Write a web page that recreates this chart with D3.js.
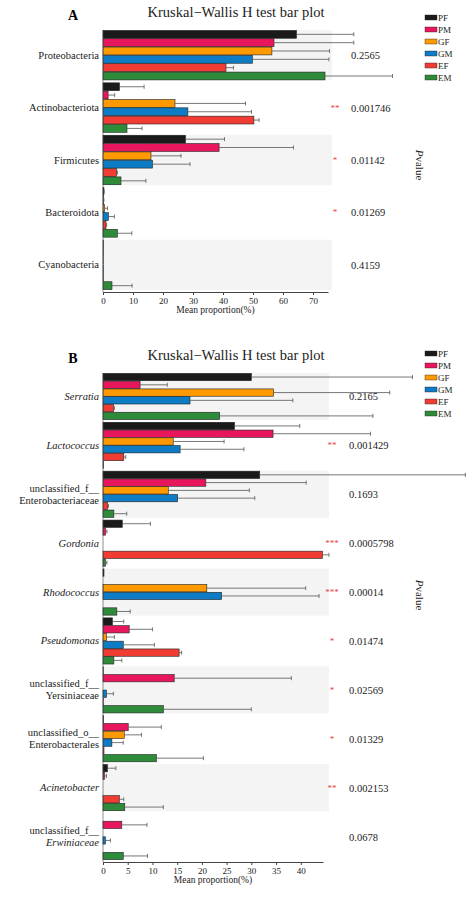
<!DOCTYPE html><html><head><meta charset="utf-8">
<script src="https://cdn.jsdelivr.net/npm/d3@7"></script>
<style>body{margin:0;background:#fff}text{font-family:"Liberation Serif","Times New Roman",serif}</style></head><body>
<svg id="c" width="474" height="902"></svg>
<script>
const series=["PF","PM","GF","GM","EF","EM"];
const colors=["#1a1a1a","#e8175d","#ff9900","#0d7cc4","#f03c32","#2e8b3a"];
const catsA=[["Proteobacteria"],["Actinobacteriota"],["Firmicutes"],["Bacteroidota"],["Cyanobacteria"]];
const italA=[false,false,false,false,false];
const meanA=[[64.5,57,56.3,49.8,41,74],[5.5,1.7,24,28.3,50.3,8],[27.5,38.7,16,16.5,4.5,6],[0.3,0.2,0.5,1.8,1,4.8],[0.1,0.1,0.1,0.1,0.1,3]];
const errA=[[83.6,83.6,75.5,75.3,43.5,96.5],[13.7,3.9,47.5,49.5,52,13],[40.5,63.5,26,29,4.8,14.3],[0.4,0.3,1.5,3.8,1.2,9.6],[0.1,0.1,0.1,0.1,0.1,9.7]];
const pA=["0.2565","0.001746","0.01142","0.01269","0.4159"];
const starA=["","**","*","*",""];
const ticksA=[0,10,20,30,40,50,60,70];
const catsB=[["Serratia"],["Lactococcus"],["unclassified_f__","Enterobacteriaceae"],["Gordonia"],["Rhodococcus"],["Pseudomonas"],["unclassified_f__","Yersiniaceae"],["unclassified_o__","Enterobacterales"],["Acinetobacter"],["unclassified_f__","Erwiniaceae"]];
const italB=[[true],[true],[false,false],[true],[true],[true],[false,false],[false,false],[true],[false,true]];
const meanB=[[30,7.5,34.5,17.6,2.1,23.6],[26.6,34.4,14.2,15.6,4.2,0.1],[31.7,20.8,13.2,15.1,0.9,2.2],[3.9,0.5,0,0,44.4,0.5],[0.2,0,21,24,0,2.8],[1.9,5.3,0.7,4.1,15.4,2.2],[0.05,14.4,0,0.7,0.05,12.2],[0.1,5.1,4.3,1.8,0.2,10.8],[0.9,0.3,0,0,3.3,4.4],[0,3.8,0,0.5,0,4.1]];
const errB=[[62.6,13,58,38.4,2.3,54.6],[39.8,54.1,24.5,28.5,4.6,0.1],[73.3,41.1,29.6,30.7,1.1,4.8],[9.6,0.8,0,0,45.7,0.8],[0.2,0,41,43.7,0,5.5],[4.2,10,2.3,10.4,15.9,3.8],[0.05,38.1,0,2.1,0.05,30],[0.1,11.8,7.8,4.1,0.2,20.3],[2.6,0.7,0,0,4.2,12.2],[0,8.9,0,1.5,0,9]];
const pB=["0.2165","0.001429","0.1693","0.0005798","0.00014","0.01474","0.02569","0.01329","0.002153","0.0678"];
const starB=["","**","","***","***","*","*","*","**",""];
const ticksB=[0,5,10,15,20,25,30,35,40];
const svg=d3.select("#c");
function panel(o){
  const g=svg.append("g");
  const x=d3.scaleLinear().domain([0,o.xmax]).range([103,o.xr]);
  const y=d3.scaleBand().domain(d3.range(o.cats.length)).range([o.top,o.bottom]).paddingInner(0.04);
  const yi=d3.scaleBand().domain(series).range([0,y.bandwidth()]).paddingInner(0.06).paddingOuter(0.05);
  o.cats.forEach((c,i)=>{
    if(i%2===0) g.append("rect").attr("x",103).attr("y",y(i)).attr("width",o.bandR-103).attr("height",y.bandwidth()).attr("fill","#f4f4f4");
  });
  o.cats.forEach((c,i)=>{
    series.forEach((s,j)=>{
      const v=o.mean[i][j],e=o.err[i][j],yy=y(i)+yi(s),h=yi.bandwidth();
      if(v>0) g.append("rect").attr("x",x(0)).attr("y",yy).attr("width",x(v)-x(0)).attr("height",h).attr("fill",colors[j]).attr("stroke","#222").attr("stroke-width",0.6);
      if(e>v+0.05){
        g.append("line").attr("x1",x(v)).attr("x2",x(e)).attr("y1",yy+h/2).attr("y2",yy+h/2).attr("stroke","#555").attr("stroke-width",0.8);
        g.append("line").attr("x1",x(e)).attr("x2",x(e)).attr("y1",yy+h/2-2).attr("y2",yy+h/2+2).attr("stroke","#555").attr("stroke-width",0.8);
      }
    });
    const cy=y(i)+y.bandwidth()/2;
    c.forEach((t,k)=>{
      g.append("text").attr("x",99).attr("y",cy+3.5+(k-(c.length-1)/2)*12).attr("text-anchor","end").attr("font-size",10.5).attr("font-style",o.ital[i][k]?"italic":"normal").attr("fill","#222").text(t);
    });
    g.append("text").attr("x",o.px).attr("y",cy+4).attr("font-size",10.5).attr("fill","#222").text(o.p[i]);
    if(o.star[i]) g.append("text").attr("x",o.sx).attr("y",cy+3).attr("font-size",9).attr("fill","#e84040").attr("text-anchor","middle").text(o.star[i]);
  });
  const ax=g.append("g").attr("transform",`translate(0,${o.bottom+2})`).call(d3.axisBottom(x).tickValues(o.ticks).tickSize(3).tickSizeOuter(0));
  ax.selectAll("text").attr("font-family","Liberation Serif").attr("font-size",9).attr("fill","#222");
  ax.select(".domain").attr("stroke","#444");ax.selectAll("line").attr("stroke","#444");
  g.append("line").attr("x1",103).attr("x2",103).attr("y1",o.top).attr("y2",o.bottom+2).attr("stroke","#444").attr("stroke-width",0.6);
  g.append("text").attr("x",(103+o.xr)/2).attr("y",o.bottom+23).attr("text-anchor","middle").attr("font-size",9.5).attr("fill","#222").text("Mean proportion(%)");
  g.append("text").attr("x",236).attr("y",o.top-13).attr("text-anchor","middle").attr("font-size",14.5).attr("fill","#222").text("Kruskal\u2212Wallis H test bar plot");
  g.append("text").attr("x",73).attr("y",o.top-10).attr("text-anchor","middle").attr("font-size",14).attr("font-weight","bold").text(o.lab);
  const lg=g.append("g");
  series.forEach((s,j)=>{
    lg.append("rect").attr("x",425).attr("y",o.ly+j*12-4).attr("width",12).attr("height",5).attr("fill",colors[j]).attr("stroke","#222").attr("stroke-width",0.4);
    lg.append("text").attr("x",438).attr("y",o.ly+j*12+2).attr("font-size",9).attr("fill","#222").text(s);
  });
  g.append("text").attr("transform",`translate(416,${o.pvy}) rotate(90)`).attr("text-anchor","middle").attr("font-size",11).attr("fill","#222").html('<tspan font-style="italic">P</tspan>value');
}
panel({cats:catsA,ital:catsA.map(c=>c.map(()=>false)),mean:meanA,err:errA,p:pA,star:starA,ticks:ticksA,xmax:75,xr:328,bandR:332,top:30,bottom:290,px:351,sx:335,lab:"A",ly:19,pvy:165});
panel({cats:catsB,ital:italB,mean:meanB,err:errB,p:pB,star:starB,ticks:ticksB,xmax:44.5,xr:323,bandR:329,top:373,bottom:860,px:349,sx:332,lab:"B",ly:355,pvy:595});
</script></body></html>
